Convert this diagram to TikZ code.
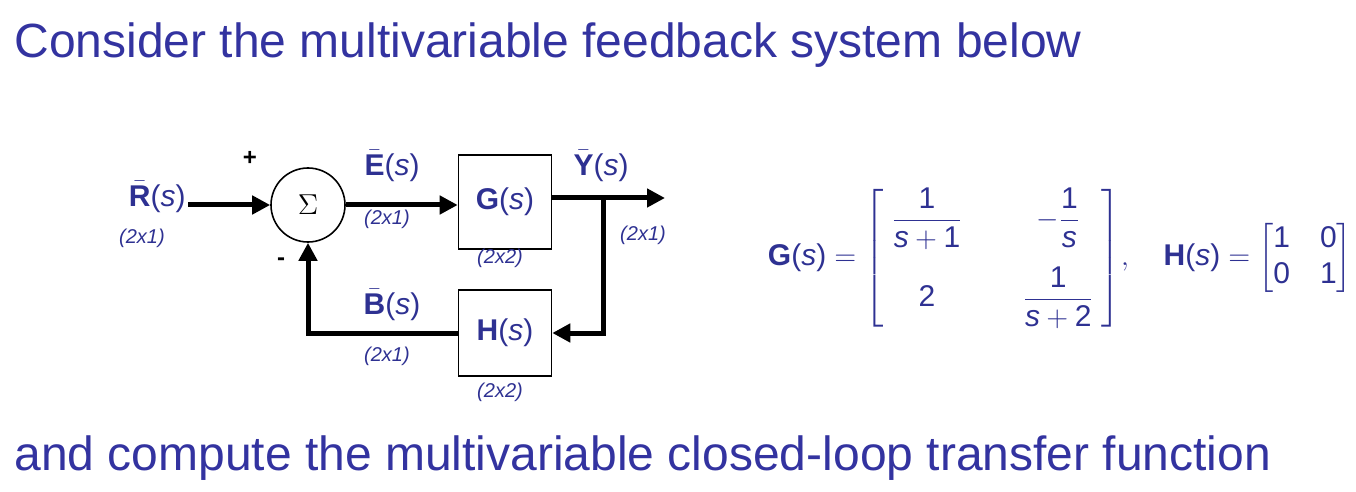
\documentclass[tikz,border=0pt]{standalone}
\usepackage{amsmath}
\usepackage{fontspec}
\setmainfont{Liberation Sans}
\usetikzlibrary{arrows.meta}
\definecolor{ttl}{RGB}{51,51,160}
\definecolor{lbl}{RGB}{46,49,146}
\begin{document}
\begin{tikzpicture}[x=0.5pt,y=-0.5pt,
  blk/.style={draw,thick,minimum width=46.5pt,minimum height=47pt,inner sep=0pt,text=lbl,font=\fontsize{15}{18}\selectfont},
  sig/.style={text=lbl,font=\fontsize{15}{18}\selectfont,inner sep=1pt},
  dim/.style={text=lbl,font=\fontsize{10}{12}\selectfont\itshape},
  wire/.style={line width=2.5pt},
  arr/.style={wire,-{Triangle[length=9pt,width=9pt]}}]
\useasboundingbox (0,0) rectangle (1356,492);
\node[anchor=base west,text=ttl,font=\fontsize{24}{28}\selectfont,inner sep=0pt] (t1) at (14,58) {Consider the multivariable feedback system below};
\node[anchor=base west,text=ttl,font=\fontsize{24}{28}\selectfont,inner sep=0pt] (t2) at (14,470) {and compute the multivariable closed-loop transfer function};
\node[draw,thick,circle,minimum size=37pt,inner sep=0pt,font=\Large] (sum) at (308,205) {$\Sigma$};
\node[blk] (G) at (505,202) {\textbf{G}(\textit{s})};
\node[blk,minimum height=43pt] (H) at (505,333) {\textbf{H}(\textit{s})};
\node[sig,anchor=east] (R) at (188,197) {$\bar{\text{\textbf{R}}}$(\textit{s})};
\coordinate (rin) at (188,205);
\node[dim] (dr) at (142,238) {(2x1)};
\node[font=\bfseries\fontsize{12}{14}\selectfont] (plus) at (250,158) {+};
\node[font=\bfseries\fontsize{12}{14}\selectfont] (minus) at (281,262) {-};
\node[sig] (E) at (392,166) {$\bar{\text{\textbf{E}}}$(\textit{s})};
\node[dim] (de) at (387,219) {(2x1)};
\node[dim] (dg) at (500,258) {(2x2)};
\node[sig] (Y) at (601,166) {$\bar{\text{\textbf{Y}}}$(\textit{s})};
\node[dim] (dy) at (643,235) {(2x1)};
\node[sig] (B) at (392,305) {$\bar{\text{\textbf{B}}}$(\textit{s})};
\node[dim] (db) at (387,356) {(2x1)};
\node[dim] (dh) at (500,392) {(2x2)};
\coordinate (yout) at (665,198);
\coordinate (br) at (603,198);
\draw[arr] (rin) -- (sum.west);
\draw[arr] (sum.east) -- (G.west |- sum.east);
\draw[arr] (G.east |- yout) -- (yout);
\draw[arr] (br) |- (H.east);
\draw[arr] (H.west) -| (sum.south);
\node[text=lbl,font=\fontsize{15}{18}\selectfont] (eq) at (1060,258) {%
$\text{\textbf{G}(\textit{s})}=\left[\begin{array}{@{\;}c@{\qquad}c@{\;}}
\dfrac{\text{1}}{\text{\textit{s}}+\text{1}} & -\dfrac{\text{1}}{\text{\textit{s}}}\\[14pt]
\text{2} & \dfrac{\text{1}}{\text{\textit{s}}+\text{2}}
\end{array}\right]\!,\quad
\text{\textbf{H}(\textit{s})}=\left[\begin{array}{@{}c@{\quad}c@{}}\text{1}&\text{0}\\ \text{0}&\text{1}\end{array}\right]$};
\end{tikzpicture}
\end{document}
